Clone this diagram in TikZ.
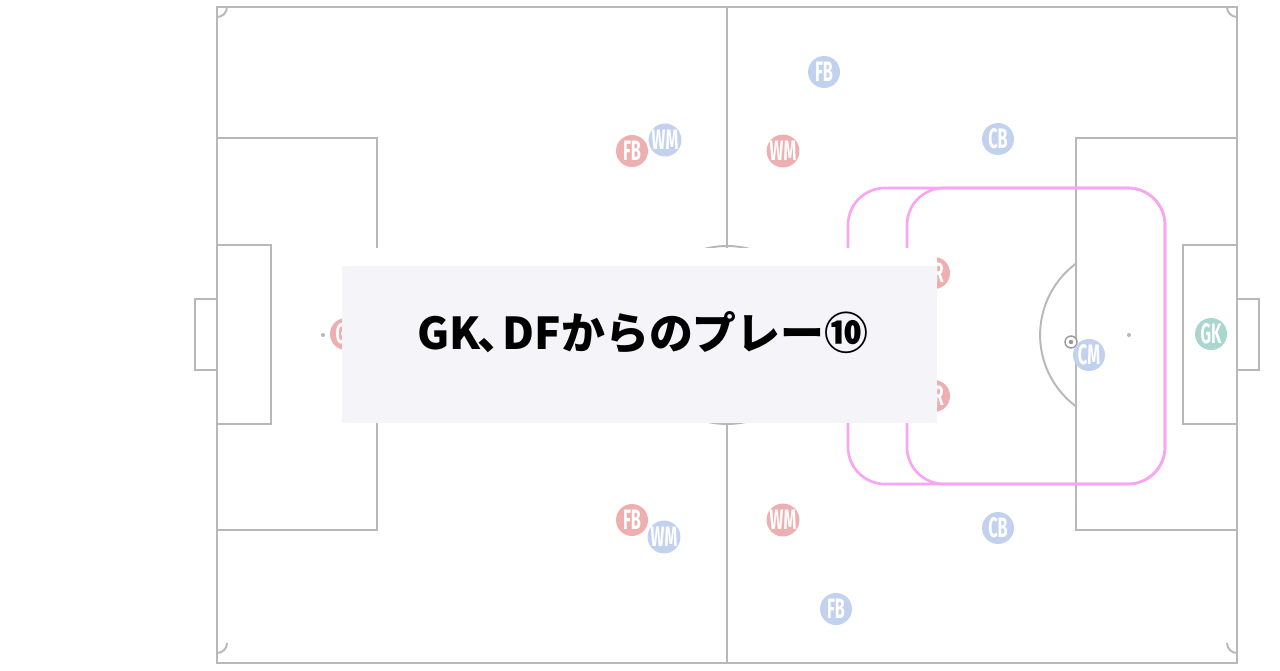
\documentclass[tikz,border=0pt]{standalone}
\usepackage{fontspec}
\newfontfamily\cjk{Noto Sans CJK JP}
\newfontfamily\plfont{Fira Sans}
\definecolor{pline}{HTML}{B8B8B8}
\definecolor{redp}{HTML}{EDAFB0}
\definecolor{bluep}{HTML}{C2D2EE}
\definecolor{gkp}{HTML}{A9D6CF}
\definecolor{zone}{HTML}{F8A6F4}
\definecolor{boxbg}{HTML}{F4F4F9}
\tikzset{
  pitch/.style={draw=pline, line width=1.1pt},
  player/.style={circle, inner sep=0pt, minimum size=0.64cm, text=white,
     font=\plfont\bfseries\fontsize{16}{16}\selectfont},
  red/.style={player, fill=redp},
  blue/.style={player, fill=bluep},
  gk/.style={player, fill=gkp},
  zonebox/.style={draw=zone, line width=1.5pt, rounded corners=0.74cm},
}
\newcommand{\pl}[1]{\scalebox{0.58}[1]{#1}}
\begin{document}
\begin{tikzpicture}[x=0.02cm,y=-0.02cm]
\useasboundingbox (0,0) rectangle (1280,670);
\fill[white] (0,0) rectangle (1280,670);
% pitch
\draw[pitch] (217,7) rectangle (1237,663);
\draw[pitch] (727,7) -- (727,663);
\draw[pitch] (727,335) circle[radius=89];
\fill[pline] (727,335) circle[radius=2];
% left
\draw[pitch] (217,138) rectangle (377,530);
\draw[pitch] (217,245) rectangle (271,424);
\draw[pitch] (217,299) -- (195,299) -- (195,370) -- (217,370);
\fill[pline] (323,335) circle[radius=2];
\draw[pitch] (377,263.5) arc[start angle=-53.4, end angle=53.4, radius=89] ;
% right
\draw[pitch] (1237,138) -- (1076,138) -- (1076,530) -- (1237,530);
\draw[pitch] (1237,245) -- (1183,245) -- (1183,424) -- (1237,424);
\draw[pitch] (1237,299) -- (1259,299) -- (1259,370) -- (1237,370);
\fill[pline] (1129,335) circle[radius=2];
\draw[pitch] (1076,263.5) arc[start angle=233.4, end angle=126.6, radius=89];
% corner arcs
\draw[pitch] (227,7) arc[start angle=0, end angle=90, radius=10];
\draw[pitch] (217,653) arc[start angle=90, end angle=0, radius=10];
\draw[pitch] (1227,7) arc[start angle=180, end angle=90, radius=10];
\draw[pitch] (1237,653) arc[start angle=90, end angle=180, radius=10];
% zones
\draw[zonebox] (848,188) rectangle (1165,484);
\draw[zonebox] (907,188) rectangle (1165,484);
% ball
\node[circle, draw=gray!80, fill=white, line width=0.8pt, minimum size=0.24cm, inner sep=0pt] (ball) at (1071,342) {};
\fill[gray!80] (ball) circle[radius=2.2];
% players
\node[blue] (bfb1) at (824,72) {\pl{FB}};
\node[red]  (rfb1) at (632,151) {\pl{FB}};
\node[blue] (bwm1) at (665,140) {\pl{WM}};
\node[red]  (rwm1) at (783,151) {\pl{WM}};
\node[blue] (bcb1) at (998,139) {\pl{CB}};
\node[red]  (rcr1) at (934,273) {\pl{CR}};
\node[red]  (rcr2) at (934,396) {\pl{CR}};
\node[red]  (rgk) at (346,334) {\pl{GK}};
\node[blue] (bcm) at (1089,355) {\pl{CM}};
\node[gk]   (bgk) at (1211,334) {\pl{GK}};
\node[red]  (rfb2) at (632,520) {\pl{FB}};
\node[blue] (bwm2) at (664,537) {\pl{WM}};
\node[red]  (rwm2) at (783,520) {\pl{WM}};
\node[blue] (bcb2) at (998,528) {\pl{CB}};
\node[blue] (bfb2) at (836,609) {\pl{FB}};
% title box
\fill[boxbg] (342,248) rectangle (937,423);
\fill[white] (342,248) rectangle (937,266);
\node[font=\cjk\bfseries\fontsize{25}{25}\selectfont, text=black] (title) at (643,333) {GK\kern-0.08em、\kern-0.42em DFからのプレー⑩};
\end{tikzpicture}
\end{document}
